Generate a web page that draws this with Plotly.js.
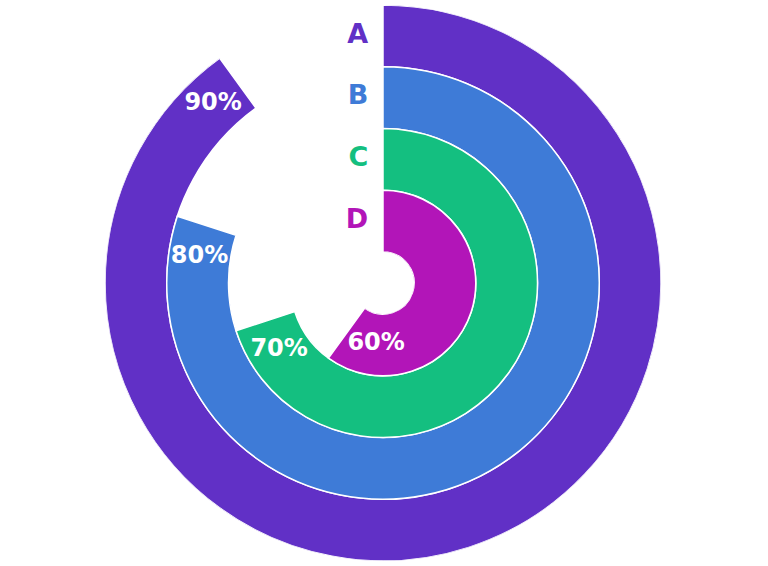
<!DOCTYPE html>
<html><head><meta charset="utf-8">
<script src="https://cdn.plot.ly/plotly-3.0.1.min.js"></script>
<style>html,body{margin:0;padding:0;background:#fff}#chart{width:768px;height:566px}</style>
</head><body><div id="chart"></div>
<script>
const categories = ['A', 'B', 'C', 'D'];
const values = [90, 80, 70, 60];          // percent of full circle
const colors = ['#6130C6', '#3E7BD7', '#14BF80', '#B215B8'];

const ringBase = [3, 2, 1, 0];            // inner radius of each ring (data units)
const traces = [];
categories.forEach((c, i) => {
  const span = values[i] * 3.6;
  traces.push({
    type: 'barpolar',
    r: [1], base: [ringBase[i]], theta: [span / 2], width: [span],
    marker: {color: colors[i], line: {color: '#ffffff', width: 1.5}},
    hoverinfo: 'skip', showlegend: false
  });
});
// category letters at the start (top) of each ring
traces.push({
  type: 'scatterpolar', mode: 'text',
  r: ringBase.map(b => b + 0.5), theta: categories.map(() => -0.001),
  text: categories.map(c => '<b>' + c + '\u00A0\u2009</b>'),
  textposition: 'middle left',
  textfont: {family: 'DejaVu Sans', size: 27, color: colors},
  hoverinfo: 'skip', showlegend: false
});
// percentage labels near the end of each bar
const pxPerUnit = 61.75, holePx = 31, labelArcPx = 32;
traces.push({
  type: 'scatterpolar', mode: 'text',
  r: ringBase.map(b => b + 0.5),
  theta: values.map((v, i) => {
    const rpx = holePx + (ringBase[i] + 0.5) * pxPerUnit;
    return v * 3.6 - (labelArcPx / rpx) * 180 / Math.PI;
  }),
  text: values.map(v => '<b>' + v + '%</b>'),
  textposition: 'middle center',
  textfont: {family: 'DejaVu Sans', size: 24, color: '#ffffff'},
  hoverinfo: 'skip', showlegend: false
});

const R = 278, cx = 383, cy = 283;
const layout = {
  width: 768, height: 566,
  margin: {l: 0, r: 0, t: 0, b: 0},
  paper_bgcolor: '#ffffff', plot_bgcolor: '#ffffff',
  showlegend: false,
  polar: {
    domain: {x: [(cx - R) / 768, (cx + R) / 768], y: [(566 - cy - R) / 566, (566 - cy + R) / 566]},
    hole: 31 / 278,
    bgcolor: '#ffffff',
    barmode: 'overlay',
    radialaxis: {range: [0, 4], visible: false, showgrid: false},
    angularaxis: {rotation: 90, direction: 'clockwise', visible: false, showgrid: false, showline: false}
  }
};
Plotly.newPlot('chart', traces, layout, {displayModeBar: false, staticPlot: true});
</script></body></html>
